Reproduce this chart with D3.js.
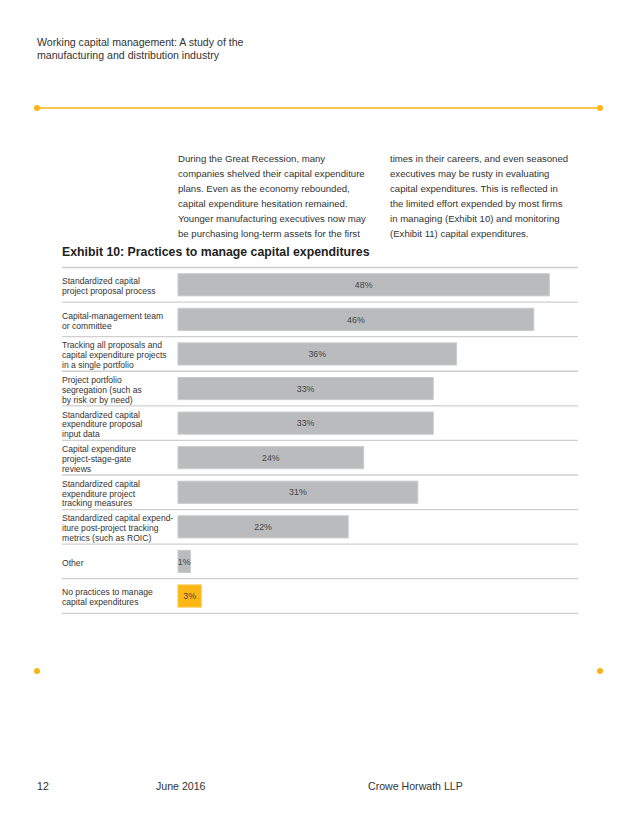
<!DOCTYPE html>
<html>
<head>
<meta charset="utf-8">
<script src="https://cdn.jsdelivr.net/npm/d3@7"></script>
<style>
  html, body { margin: 0; padding: 0; background: #fff; }
  svg { display: block; }
  text { font-family: "Liberation Sans", Arial, Helvetica, sans-serif; }
</style>
</head>
<body>
<svg id="page" width="638" height="826"></svg>
<script>
// ---------- Data ----------
const categories = [
  "Standardized capital project proposal process",
  "Capital-management team or committee",
  "Tracking all proposals and capital expenditure projects in a single portfolio",
  "Project portfolio segregation (such as by risk or by need)",
  "Standardized capital expenditure proposal input data",
  "Capital expenditure project-stage-gate reviews",
  "Standardized capital expenditure project tracking measures",
  "Standardized capital expenditure post-project tracking metrics (such as ROIC)",
  "Other",
  "No practices to manage capital expenditures"
];
const labelLines = [
  ["Standardized capital", "project proposal process"],
  ["Capital-management team", "or committee"],
  ["Tracking all proposals and", "capital expenditure projects", "in a single portfolio"],
  ["Project portfolio", "segregation (such as", "by risk or by need)"],
  ["Standardized capital", "expenditure proposal", "input data"],
  ["Capital expenditure", "project-stage-gate", "reviews"],
  ["Standardized capital", "expenditure project", "tracking measures"],
  ["Standardized capital expend-", "iture post-project tracking", "metrics (such as ROIC)"],
  ["Other"],
  ["No practices to manage", "capital expenditures"]
];
const values = [48, 46, 36, 33, 33, 24, 31, 22, 1, 3];
const highlighted = [false, false, false, false, false, false, false, false, false, true];

const chartTitle = "Exhibit 10: Practices to manage capital expenditures";
const headerLines = ["Working capital management: A study of the", "manufacturing and distribution industry"];
const bodyLeft = [
  "During the Great Recession, many",
  "companies shelved their capital expenditure",
  "plans. Even as the economy rebounded,",
  "capital expenditure hesitation remained.",
  "Younger manufacturing executives now may",
  "be purchasing long-term assets for the first"
];
const bodyRight = [
  "times in their careers, and even seasoned",
  "executives may be rusty in evaluating",
  "capital expenditures. This is reflected in",
  "the limited effort expended by most firms",
  "in managing (Exhibit 10) and monitoring",
  "(Exhibit 11) capital expenditures."
];
const footer = [
  {text: "12", x: 37},
  {text: "June 2016", x: 156},
  {text: "Crowe Horwath LLP", x: 368}
];

// ---------- Page ----------
const svg = d3.select("#page");
const yellowLine = "#f9c54a", yellowDot = "#fbb414";

svg.append("g").selectAll("text").data(headerLines).join("text")
  .attr("x", 37).attr("y", (d, i) => 46 + i * 13.2)
  .attr("font-size", 10.6).attr("fill", "#333").text(d => d);

svg.append("line").attr("x1", 37).attr("x2", 600).attr("y1", 108).attr("y2", 108)
  .attr("stroke", yellowLine).attr("stroke-width", 2);
[[37, 108], [600, 108], [37, 671], [600, 671]].forEach(([cx, cy]) =>
  svg.append("circle").attr("cx", cx).attr("cy", cy).attr("r", 3).attr("fill", yellowDot));

function bodyCol(lines, x) {
  svg.append("g").selectAll("text").data(lines).join("text")
    .attr("x", x).attr("y", (d, i) => 161.5 + i * 15.1)
    .attr("font-size", 9.6).attr("fill", "#333").text(d => d);
}
bodyCol(bodyLeft, 178);
bodyCol(bodyRight, 390);

svg.append("g").selectAll("text").data(footer).join("text")
  .attr("x", d => d.x).attr("y", 790)
  .attr("font-size", 10.6).attr("fill", "#333").text(d => d.text);

// ---------- Chart ----------
svg.append("text").attr("x", 62).attr("y", 255.5)
  .attr("font-size", 12.3).attr("font-weight", "bold").attr("fill", "#222")
  .text(chartTitle);

const chartTop = 267.5, chartBottom = 613.3;
const y = d3.scaleBand().domain(categories).range([chartTop, chartBottom])
  .paddingInner(0.36).paddingOuter(0.18);
const step = y.step();
const x = d3.scaleLinear().domain([0, 48]).range([178, 549.3]);
const minBar = 12.4; // small bars are drawn wide enough to hold their label
const barW = v => Math.max(x(v) - x(0), minBar);

// separator rules
svg.append("g").selectAll("line").data(d3.range(categories.length + 1)).join("line")
  .attr("x1", 62).attr("x2", 578)
  .attr("y1", i => chartTop + i * step).attr("y2", i => chartTop + i * step)
  .attr("stroke", "#cfcfd0").attr("stroke-width", 1.3);

const rows = svg.append("g").selectAll("g").data(categories).join("g");

rows.append("rect")
  .attr("x", x(0))
  .attr("y", d => y(d))
  .attr("width", (d, i) => barW(values[i]))
  .attr("height", y.bandwidth())
  .attr("fill", (d, i) => highlighted[i] ? "#fdb714" : "#babbbd")
  .attr("stroke", (d, i) => highlighted[i] ? "#fdc43f" : "#c9cacc")
  .attr("stroke-width", 1);

rows.append("text")
  .attr("x", (d, i) => x(0) + barW(values[i]) / 2)
  .attr("y", d => y(d) + y.bandwidth() / 2 + 3.2)
  .attr("text-anchor", "middle")
  .attr("font-size", 8.8).attr("fill", "#444")
  .text((d, i) => values[i] + "%");

const lh = 9.9;
rows.append("text")
  .attr("font-size", 8.6).attr("fill", "#333")
  .each(function (d, i) {
    const lines = labelLines[i];
    const cy = y(d) + y.bandwidth() / 2;
    const y0 = cy - (lines.length - 1) * lh / 2 + 4.3;
    d3.select(this).selectAll("tspan").data(lines).join("tspan")
      .attr("x", 62).attr("y", (l, j) => y0 + j * lh).text(l => l);
  });
</script>
</body>
</html>
